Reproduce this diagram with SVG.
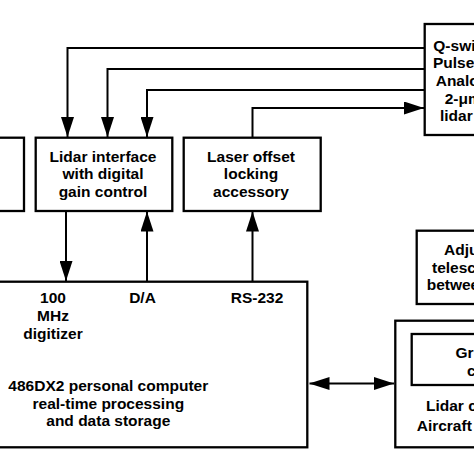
<svg xmlns="http://www.w3.org/2000/svg" width="474" height="474" viewBox="0 0 474 474">
<style>
.box{fill:none;stroke:#000;stroke-width:2.3}
.ln{fill:none;stroke:#000;stroke-width:2}
text{font-family:"Liberation Sans",Arial,Helvetica,sans-serif;font-weight:bold;font-size:15.5px;fill:#000}
.c{text-anchor:middle}
</style>
<defs>
<marker id="ah" markerUnits="userSpaceOnUse" markerWidth="20" markerHeight="13" refX="20" refY="6.5" orient="auto-start-reverse" viewBox="0 0 20 13">
<path d="M0,0 L20,6.5 L0,13 Z" fill="#000"/>
</marker>
</defs>
<rect width="474" height="474" fill="#fff"/>
<g id="connectors">
<path class="ln" d="M425,48 H67.5 V137" marker-end="url(#ah)"/>
<path class="ln" d="M425,69 H107.5 V137" marker-end="url(#ah)"/>
<path class="ln" d="M425,90 H147 V137" marker-end="url(#ah)"/>
<path class="ln" d="M252.5,137.7 V108 H424" marker-end="url(#ah)"/>
<path class="ln" d="M66,211 V281" marker-end="url(#ah)"/>
<path class="ln" d="M147,281.7 V211.5" marker-end="url(#ah)"/>
<path class="ln" d="M252.5,281.7 V211.5" marker-end="url(#ah)"/>
<path class="ln" d="M309.5,383.5 H394" marker-start="url(#ah)" marker-end="url(#ah)"/>
</g>
<g id="left-box">
<rect class="box" x="-10" y="137.7" width="34" height="73.3"/>
</g>
<g id="lidar-interface">
<rect class="box" x="35.7" y="137.7" width="136.6" height="73.3"/>
<text class="c" x="103" y="161.5">Lidar interface</text>
<text class="c" x="103" y="179.3">with digital</text>
<text class="c" x="103" y="196.8">gain control</text>
</g>
<g id="laser-offset">
<rect class="box" x="183.7" y="137.7" width="137" height="73.3"/>
<text class="c" x="251" y="161.5">Laser offset</text>
<text class="c" x="251" y="179.3">locking</text>
<text class="c" x="251" y="196.8">accessory</text>
</g>
<g id="q-switched">
<rect class="box" x="424.7" y="24" width="60" height="111"/>
<text x="433.3" y="50.7">Q-swi</text>
<text x="433" y="68.3">Pulse</text>
<text x="435.7" y="86">Analo</text>
<text x="444.7" y="103.5">2-μm</text>
<text x="440" y="121">lidar</text>
</g>
<g id="adjust">
<rect class="box" x="416.7" y="230.7" width="70" height="73.3"/>
<text x="444" y="255.3">Adju</text>
<text x="432" y="272.7">telesc</text>
<text x="426.7" y="290">betwee</text>
</g>
<g id="computer">
<rect class="box" x="-10" y="281.7" width="317.3" height="165.6"/>
<text class="c" x="53" y="303">100</text>
<text class="c" x="53" y="321">MHz</text>
<text class="c" x="53" y="338.5">digitizer</text>
<text class="c" x="142.5" y="303">D/A</text>
<text class="c" x="257" y="303">RS-232</text>
<text class="c" x="108.3" y="391">486DX2 personal computer</text>
<text class="c" x="108.3" y="408.5">real-time processing</text>
<text class="c" x="108.3" y="426">and data storage</text>
</g>
<g id="lidar-control">
<rect class="box" x="395.3" y="320.7" width="90" height="126.6"/>
<rect class="box" x="411.7" y="334" width="80" height="51"/>
<text x="455.5" y="358">Gr</text>
<text x="467" y="375.5">c</text>
<text x="426" y="410.5">Lidar c</text>
<text x="416.7" y="431">Aircraft</text>
</g>
</svg>
